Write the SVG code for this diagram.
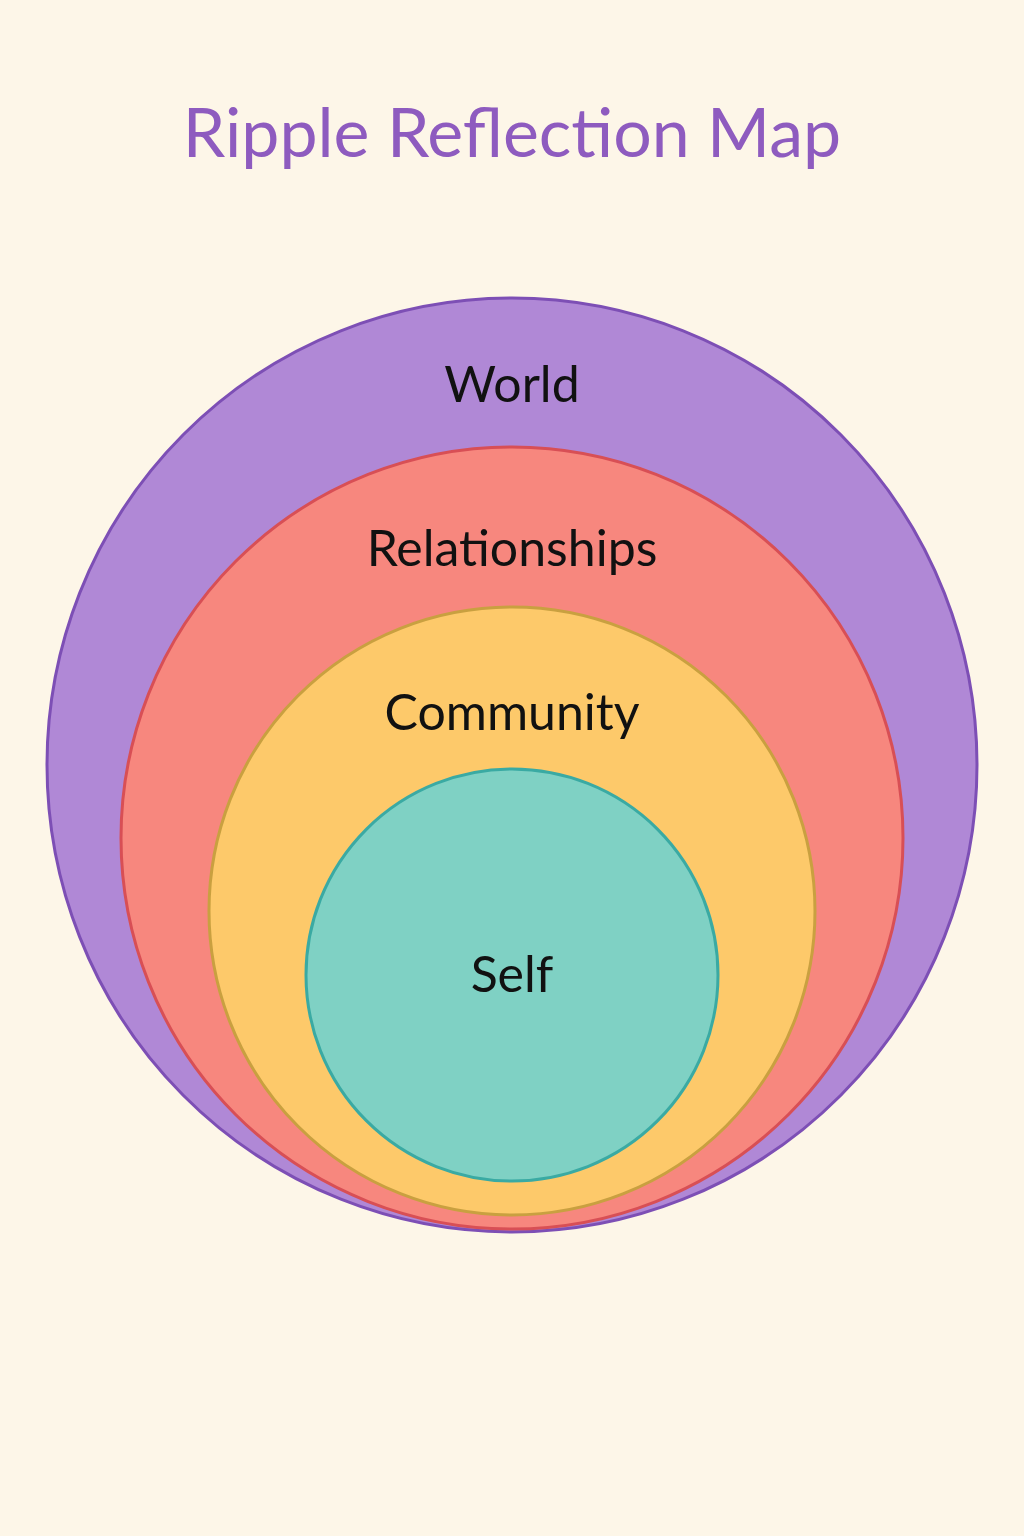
<svg xmlns="http://www.w3.org/2000/svg" width="1024" height="1536" viewBox="0 0 1024 1536">
<style>
.lbl{font-family:Lato,"Open Sans","Liberation Sans",sans-serif;font-size:50px;fill:#111;text-anchor:middle}
.ring{stroke-width:3}
</style>
<rect width="1024" height="1536" fill="#fdf6e8"/>
<text x="512" y="157" text-anchor="middle" font-family="Lato,'Open Sans','Liberation Sans',sans-serif" font-size="68" fill="#8e5bbf">Ripple Reflection Map</text>
<g id="world"><ellipse class="ring" cx="512" cy="765" rx="465" ry="467" fill="#b088d6" stroke="#7d4fb5"/><text class="lbl" x="512" y="402">World</text></g>
<g id="relationships"><ellipse class="ring" cx="512" cy="838" rx="391" ry="391" fill="#f7877e" stroke="#d84f55"/><text class="lbl" x="512" y="566">Relationships</text></g>
<g id="community"><ellipse class="ring" cx="512" cy="911" rx="303" ry="304" fill="#fdc96a" stroke="#c9a040"/><text class="lbl" x="512" y="730">Community</text></g>
<g id="self"><circle class="ring" cx="512" cy="975" r="206" fill="#7fd1c4" stroke="#3aaaa3"/><text class="lbl" x="512" y="992" font-size="60">Self</text></g>
<g id="connectors"/>
</svg>
